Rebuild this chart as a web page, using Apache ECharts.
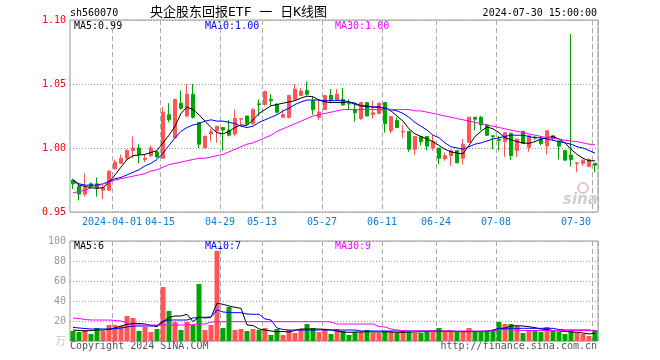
<!DOCTYPE html>
<html><head><meta charset="utf-8">
<script src="https://cdn.jsdelivr.net/npm/echarts@6/dist/echarts.min.js"></script>
<style>html,body{margin:0;padding:0;background:#fff}#c{width:660px;height:360px}</style>
</head><body><div id="c"></div><script>
const dates = ['03-21','03-22','03-25','03-26','03-27','03-28','03-29','04-01','04-02','04-03',
'04-08','04-09','04-10','04-11','04-12','04-15','04-16','04-17','04-18','04-19',
'04-22','04-23','04-24','04-25','04-26','04-29','04-30','05-06','05-07','05-08',
'05-09','05-10','05-13','05-14','05-15','05-16','05-17','05-20','05-21','05-22',
'05-23','05-24','05-27','05-28','05-29','05-30','05-31','06-03','06-04','06-05',
'06-06','06-07','06-11','06-12','06-13','06-14','06-17','06-18','06-19','06-20',
'06-21','06-24','06-25','06-26','06-27','06-28','07-01','07-02','07-03','07-04',
'07-05','07-08','07-09','07-10','07-11','07-12','07-15','07-16','07-17','07-18',
'07-19','07-22','07-23','07-24','07-25','07-26','07-29','07-30'];
const open = [0.975,0.970,0.964,0.972,0.972,0.967,0.967,0.984,0.988,0.992,
0.998,1.000,0.991,0.994,0.997,0.992,1.026,1.008,1.035,1.025,
1.042,1.020,1.000,1.011,1.0135,1.016,1.014,1.011,1.0225,1.025,
1.019,1.0345,1.034,1.038,1.034,1.024,1.024,1.038,1.041,1.045,
1.037,1.024,1.030,1.041,1.0375,1.038,1.035,1.030,1.023,1.0355,
1.026,1.027,1.0355,1.0135,1.0215,1.0125,1.013,0.999,1.009,1.009,
1.000,1.000,0.9915,0.994,0.998,0.992,1.0045,1.024,1.024,1.018,
1.0095,1.0068,1.005,1.0115,0.998,1.013,1.0005,1.0086,1.007,1.0015,
1.0095,1.0055,0.998,0.9945,0.9878,0.988,0.9855,0.988];
const close = [0.972,0.964,0.969,0.969,0.969,0.969,0.982,0.989,0.992,0.998,
1.000,0.995,0.992,1.000,0.993,1.028,1.022,1.038,1.031,1.042,
1.024,1.003,1.009,1.013,1.017,1.014,1.010,1.023,1.023,1.019,
1.030,1.034,1.044,1.037,1.028,1.026,1.041,1.046,1.0445,1.042,
1.030,1.028,1.041,1.0375,1.042,1.0335,1.0345,1.0275,1.0355,1.025,
1.0275,1.035,1.019,1.0245,1.016,1.013,0.999,1.009,1.005,1.0015,
1.005,0.992,0.994,0.998,0.9885,1.003,1.024,1.0225,1.018,1.010,
1.009,1.006,1.012,0.994,1.007,1.0035,1.0095,1.008,1.0035,1.0135,
1.0075,1.0015,0.9905,0.991,0.9883,0.9905,0.991,0.9865];
const low = [0.968,0.959,0.962,0.968,0.962,0.960,0.967,0.983,0.988,0.990,
0.992,0.988,0.989,0.993,0.992,0.992,1.020,1.008,1.030,1.024,
1.023,1.000,1.000,1.005,1.004,0.998,1.009,1.009,1.018,1.018,
1.018,1.025,1.033,1.033,1.027,1.024,1.023,1.037,1.041,1.041,
1.026,1.022,1.030,1.035,1.0375,1.0335,1.030,1.0205,1.022,1.025,
1.023,1.027,1.012,1.0115,1.0155,1.008,0.997,0.9945,1.002,0.998,
0.998,0.9875,0.990,0.986,0.988,0.987,1.004,1.014,1.014,1.0095,
0.999,0.998,0.993,0.9905,0.993,1.0035,0.997,1.006,1.002,0.995,
1.006,0.991,0.9905,0.9855,0.981,0.986,0.985,0.981];
const high = [0.976,0.971,0.980,0.973,0.977,0.971,0.982,0.991,0.995,0.999,
1.009,1.003,0.995,1.002,0.998,1.032,1.035,1.038,1.045,1.050,
1.050,1.020,1.010,1.015,1.017,1.016,1.022,1.030,1.023,1.025,
1.031,1.038,1.045,1.042,1.035,1.030,1.041,1.050,1.047,1.052,
1.040,1.0375,1.041,1.046,1.046,1.047,1.038,1.0355,1.0355,1.036,
1.037,1.035,1.0355,1.0245,1.024,1.018,1.013,1.009,1.009,1.009,
1.010,1.000,0.9965,0.999,0.998,1.007,1.024,1.024,1.025,1.019,
1.010,1.0095,1.012,1.0115,1.007,1.0135,1.0095,1.009,1.009,1.0135,
1.010,1.0055,0.9985,1.089,0.989,0.991,0.992,0.988];
const ma5 = [0.975,0.971,0.970,0.969,0.9685,0.969,0.973,0.979,0.985,0.991,
0.994,0.9945,0.995,0.9965,0.998,1.004,1.010,1.017,1.027,1.032,
1.030,1.026,1.021,1.016,1.012,1.011,1.013,1.016,1.018,1.0177,
1.022,1.027,1.030,1.033,1.034,1.035,1.036,1.037,1.039,1.0405,
1.040,1.0375,1.036,1.0355,1.0355,1.0355,1.036,1.035,1.033,1.0323,
1.032,1.032,1.031,1.029,1.025,1.021,1.015,1.011,1.009,1.007,
1.005,1.002,0.999,0.997,0.996,0.9955,1.002,1.009,1.013,1.0165,
1.015,1.012,1.008,1.0065,1.005,1.004,1.0036,1.005,1.007,1.008,
1.009,1.007,1.004,0.999,0.995,0.992,0.990,0.990];
const ma10 = [0.975,0.972,0.971,0.971,0.971,0.972,0.974,0.976,0.977,0.979,
0.981,0.983,0.986,0.988,0.991,0.996,1.002,1.008,1.013,1.016,
1.018,1.019,1.021,1.022,1.021,1.021,1.020,1.019,1.017,1.016,
1.017,1.020,1.022,1.024,1.026,1.029,1.031,1.034,1.036,1.0375,
1.0375,1.0375,1.037,1.037,1.037,1.037,1.036,1.034,1.033,1.033,
1.032,1.032,1.031,1.030,1.029,1.027,1.024,1.020,1.017,1.014,
1.010,1.008,1.004,1.001,1.000,0.999,1.001,1.003,1.004,1.0055,
1.007,1.008,1.009,1.010,1.010,1.010,1.009,1.008,1.008,1.007,
1.006,1.005,1.004,1.003,1.001,1.000,0.998,0.996];
const ma30 = [0.965,0.966,0.967,0.969,0.970,0.972,0.973,0.975,0.976,0.977,
0.978,0.979,0.980,0.982,0.983,0.985,0.987,0.988,0.989,0.990,
0.991,0.992,0.992,0.993,0.994,0.995,0.997,0.999,1.001,1.003,
1.004,1.006,1.008,1.010,1.013,1.015,1.017,1.019,1.021,1.023,
1.025,1.026,1.027,1.028,1.029,1.030,1.030,1.030,1.030,1.030,
1.030,1.030,1.030,1.030,1.030,1.030,1.030,1.029,1.029,1.028,
1.027,1.026,1.025,1.024,1.023,1.022,1.021,1.020,1.019,1.018,
1.017,1.016,1.015,1.014,1.013,1.012,1.011,1.010,1.009,1.008,
1.0076,1.007,1.006,1.0055,1.005,1.004,1.003,1.0025];
const volume = [10,9,11,7,13,10,16,16,15,25,
23,10,14,9,12,54,30,19,11,19,
16,57,11,16,90,13,34,11,12,10,
12,11,13,6,12,6,11,8,12,17,
13,9,11,7,12,10,6,9,9,11,
8,8,9,9,8,10,9,8,8,9,
9,13,10,10,9,10,13,9,9,9,
11,19,17,17,15,8,11,10,9,14,
10,9,7,10,8,7,5,11];
const volMa5 = [11,10.5,10,10.5,11,11,11.7,13,15,16.5,
17.7,17.5,17,15.5,14.3,19,23.5,25,25,26.7,
19.3,24,23,23.7,37.7,36.7,35,33.7,32.7,16,
15.5,12,11,10,9.3,9.5,9,10.5,12,12,
12,12,11.7,11,10,9,8.7,9,9,9.3,
9,9,9.3,9,8.7,8.7,9,9,9.2,9.5,
10,10,10,10,9.5,9.3,9.3,9.5,9.5,10,
10.5,12,13,15,15.3,15,14.3,13.3,12,11.5,
10.5,10,9.5,9,8.7,8,7,7.7];
const volMa10 = [13.7,13,12.5,12,12,12,12,12.3,13,14,
15,15,15,15,15.5,20,21,21,21,21,
23,23.5,23.7,24,31,29,28.5,28.3,28.3,27,
26.7,26.7,22,21,13,11.5,11,11,11,11,
11,11,11,11,11,11,11,11,10,10,
10,10,10,10,10,10,10,10,10,10,
10,9.5,9.5,9.5,9.5,9.5,9.5,9.5,9.5,9.5,
11,12.7,12.7,12.7,12.7,12.7,12.7,12.7,12.7,12.7,
12.7,11.5,11,11,11,11,11,10];
const volMa30 = [23,22.5,21.5,21,21,21,21,20.5,20,18,
16,16,16,16,16,16,16,16,16,16,
16.5,17,17,19,19.3,19.3,19.3,19.3,19.3,19.3,
19.3,19.3,19.3,19.3,19.3,19.3,19.3,19.3,19.3,19.3,
19.3,19.3,19.3,19,17,17,17,17,17,17,
17,14.5,14,12,11,10.5,10,10,10,10,
10,10,10,10,10,10,10,10,10,10,
10,11.5,11.5,11,11,10.5,10.5,10.5,10.5,10.5,
10.5,10.5,10.5,10.5,10.5,10.5,10.5,10.5];
const tickDates = ['04-01','04-15','04-29','05-13','05-27','06-11','06-24','07-08','07-30'];
const tickLabels = ['2024-04-01','04-15','04-29','05-13','05-27','06-11','06-24','07-08','07-30'];
const priceMin = 0.95, priceMax = 1.10, priceStep = 0.05;
const volMin = 0, volMax = 100, volStep = 20;

const RED = '#ff5555', GREEN = '#00a600';
const MONO = '"DejaVu Sans Mono", "Liberation Mono", monospace';
const tickIdx = tickDates.map(d => dates.indexOf(d));
const lastTick = tickIdx[tickIdx.length - 1];

const candleData = open.map((o, i) => [o, close[i], low[i], high[i]]);
const volData = volume.map((v, i) => ({ value: v, itemStyle: { color: close[i] >= open[i] ? RED : GREEN } }));

const chart = echarts.init(document.getElementById('c'), null, { renderer: 'canvas' });
const splitV = { show: true, interval: (i) => tickIdx.includes(i), lineStyle: { color: '#aaa', type: [5, 3], width: 1 } };
const splitH = { show: true, lineStyle: { color: '#999', type: [1, 2], width: 1 } };
const gridCommon = { show: true, borderColor: '#999', borderWidth: 1, backgroundColor: 'transparent', outerBoundsMode: 'none', containLabel: false };

function lineSeries(data, color, x, y) {
  return { type: 'line', data, xAxisIndex: x, yAxisIndex: y, symbol: 'none', showSymbol: false, silent: true,
    lineStyle: { color, width: 1 }, itemStyle: { color }, z: 3 };
}

const txt = (text, x, y, color, align, size, font) => ({
  type: 'text', x, y, silent: true,
  style: { text, fill: color, font: (size || 10) + 'px ' + (font || MONO), textAlign: align || 'left', textVerticalAlign: 'middle' }
});

chart.setOption({
  animation: false,
  backgroundColor: '#fff',
  grid: [
    Object.assign({ left: 70, top: 20, width: 528, height: 192 }, gridCommon),
    Object.assign({ left: 70, top: 241, width: 528, height: 100 }, gridCommon)
  ],
  xAxis: [
    { type: 'category', gridIndex: 0, data: dates, boundaryGap: true,
      axisLine: { show: false }, axisTick: { show: false },
      axisLabel: { interval: (i) => tickIdx.includes(i), color: '#0a7fd4', fontFamily: MONO, fontSize: 10, margin: 5,
        padding: [0, 6, 0, 0],
        formatter: (v, i) => { const k = tickDates.indexOf(v); if (k < 0) return ''; return i === lastTick ? '{e|' + tickLabels[k] + '}' : tickLabels[k]; },
        rich: { e: { color: '#0a7fd4', fontFamily: MONO, fontSize: 10, padding: [0, 32, 0, 0] } } },
      splitLine: splitV },
    { type: 'category', gridIndex: 1, data: dates, boundaryGap: true,
      axisLine: { show: false }, axisTick: { show: false }, axisLabel: { show: false },
      splitLine: splitV }
  ],
  yAxis: [
    { type: 'value', gridIndex: 0, min: priceMin, max: priceMax, interval: priceStep, scale: true,
      axisLine: { show: false }, axisTick: { show: false },
      axisLabel: { color: '#ff0000', fontFamily: MONO, fontSize: 10, margin: 4, formatter: v => v.toFixed(2) },
      splitLine: splitH },
    { type: 'value', gridIndex: 1, min: volMin, max: volMax, interval: volStep,
      axisLine: { show: false }, axisTick: { show: false },
      axisLabel: { color: '#999', fontFamily: MONO, fontSize: 10, margin: 4,
        formatter: v => v === 0 ? '{u|万}' : String(v),
        rich: { u: { color: '#c8c8c8', fontSize: 11, fontFamily: '"Noto Sans CJK SC", sans-serif' } } },
      splitLine: splitH }
  ],
  series: [
    { type: 'candlestick', xAxisIndex: 0, yAxisIndex: 0, data: candleData, barWidth: 4, silent: true,
      itemStyle: { color: RED, color0: GREEN, borderColor: RED, borderColor0: GREEN, borderWidth: 1 }, z: 2 },
    lineSeries(ma5, '#000000', 0, 0),
    lineSeries(ma10, '#0000ff', 0, 0),
    lineSeries(ma30, '#ff00ff', 0, 0),
    { type: 'bar', xAxisIndex: 1, yAxisIndex: 1, data: volData, barWidth: 5, silent: true, z: 2 },
    lineSeries(volMa5, '#000000', 1, 1),
    lineSeries(volMa10, '#0000ff', 1, 1),
    lineSeries(volMa30, '#ff00ff', 1, 1)
  ],
  graphic: [
    txt('sh560070', 70, 13, '#000'),
    txt('央企股东回报ETF 一 日K线图', 150, 13, '#000', 'left', 13, '"DejaVu Sans Mono", "Noto Sans CJK SC", sans-serif'),
    txt('2024-07-30 15:00:00', 597, 13, '#000', 'right'),
    txt('MA5:0.99', 74, 26, '#000'),
    txt('MA10:1.00', 205, 26, '#0000ff'),
    txt('MA30:1.00', 335, 26, '#ff00ff'),
    txt('MA5:6', 74, 246, '#000'),
    txt('MA10:7', 205, 246, '#0000ff'),
    txt('MA30:9', 335, 246, '#ff00ff'),
    txt('Copyright 2024 SINA.COM', 70, 346, '#555'),
    txt('http://finance.sina.com.cn', 597, 346, '#555', 'right'),
    { type: 'circle', silent: true, z: 1, shape: { cx: 583, cy: 188, r: 5 },
      style: { fill: 'none', stroke: '#e2c4c4', lineWidth: 2 } },
    { type: 'text', x: 563, y: 200, silent: true, z: 1,
      style: { text: 'sina', fill: '#d0d0d0', font: 'italic bold 15px "DejaVu Sans", sans-serif', textAlign: 'left', textVerticalAlign: 'middle' } }
  ]
});
</script></body></html>
